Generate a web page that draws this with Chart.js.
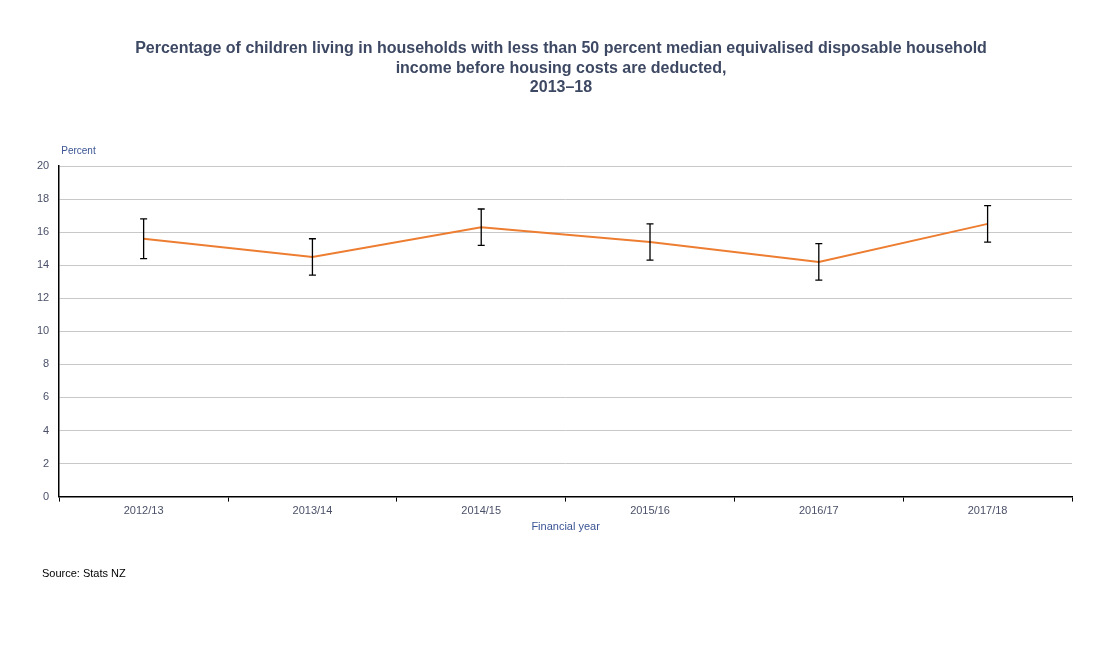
<!DOCTYPE html>
<html>
<head>
<meta charset="utf-8">
<script src="https://cdn.jsdelivr.net/npm/chart.js@4"></script>
<style>
  html, body { margin: 0; padding: 0; background: #fff; }
  #wrap { position: relative; width: 1101px; height: 658px; }
  #title { position: absolute; left: 0; width: 1122px; top: 38px; text-align: center;
           font: bold 16px/19.5px "Liberation Sans", Arial, sans-serif; color: #3d4863; }
  #source { position: absolute; left: 42px; top: 567px; font: 11px "Liberation Sans", Arial, sans-serif; color: #000; }
</style>
</head>
<body>
<div id="wrap">
  <canvas id="chart" width="1101" height="658"></canvas>
  <div id="title"></div>
  <div id="source">Source: Stats NZ</div>
</div>
<script>
'use strict';

// financial years and estimates (percent), with confidence bounds
const years = ['2012/13', '2013/14', '2014/15', '2015/16', '2016/17', '2017/18'];
const percent = [15.6, 14.5, 16.3, 15.4, 14.2, 16.5];
const lower = [14.4, 13.4, 15.2, 14.3, 13.1, 15.4];
const upper = [16.8, 15.6, 17.4, 16.5, 15.3, 17.6];

const titleLines = [
    'Percentage of children living in households with less than 50 percent median equivalised disposable household',
    'income before housing costs are deducted,',
    '2013\u201318'
];

const FONT = '"Liberation Sans", Arial, sans-serif';
const tickColor = '#4a5068';
const blueLabel = '#3a5493';

document.getElementById('title').innerHTML = titleLines.join('<br>');

// error bars, drawn through the chart scales
const errorBars = {
    id: 'errorBars',
    afterDatasetsDraw(chart) {
        const x = chart.scales.x, y = chart.scales.y;
        const ctx = chart.ctx;
        ctx.save();
        ctx.strokeStyle = '#000';
        ctx.lineWidth = 1.3;
        for (let i = 0; i < years.length; i++) {
            let px = x.getPixelForValue(i);
            let top = y.getPixelForValue(upper[i]);
            let bot = y.getPixelForValue(lower[i]);
            ctx.beginPath();
            ctx.moveTo(px, top); ctx.lineTo(px, bot);
            ctx.moveTo(px - 3.5, top); ctx.lineTo(px + 3.5, top);
            ctx.moveTo(px - 3.5, bot); ctx.lineTo(px + 3.5, bot);
            ctx.stroke();
        }
        ctx.restore();
    }
};

// "Percent" unit label above the y axis
const unitLabel = {
    id: 'unitLabel',
    afterDraw(chart) {
        const ctx = chart.ctx;
        ctx.save();
        ctx.font = '10px ' + FONT;
        ctx.fillStyle = blueLabel;
        ctx.textAlign = 'left';
        ctx.textBaseline = 'middle';
        ctx.fillText('Percent', chart.chartArea.left + 2, chart.chartArea.top - 15);
        ctx.restore();
    }
};

function renderChart() {
    let canvasElem = document.getElementById('chart');
    const chartConfig = {
        type: 'line',
        data: {
            labels: years,
            datasets: [{
                label: 'Percent',
                data: percent,
                borderColor: '#ed7d31',
                borderWidth: 2,
                pointRadius: 0,
                tension: 0,
                fill: false
            }]
        },
        options: {
            responsive: false,
            animation: false,
            devicePixelRatio: 1,
            layout: {
                padding: { left: 27, right: 29, top: 166, bottom: 124 }
            },
            plugins: {
                legend: { display: false },
                tooltip: { enabled: false },
                title: { display: false }
            },
            scales: {
                x: {
                    offset: true,
                    grid: {
                        display: true,
                        offset: true,
                        drawOnChartArea: false,
                        drawTicks: true,
                        tickLength: 5,
                        color: '#000'
                    },
                    border: { color: '#000', width: 1.5 },
                    ticks: {
                        color: tickColor,
                        font: { family: FONT, size: 11 },
                        padding: 3,
                        maxRotation: 0
                    },
                    title: {
                        display: true,
                        text: 'Financial year',
                        color: blueLabel,
                        font: { family: FONT, size: 11 },
                        padding: { top: 0, bottom: 0 }
                    }
                },
                y: {
                    min: 0,
                    max: 20,
                    ticks: {
                        stepSize: 2,
                        color: tickColor,
                        font: { family: FONT, size: 11 },
                        padding: 10
                    },
                    grid: {
                        color: '#c8c8c8',
                        drawTicks: false
                    },
                    border: { color: '#000', width: 1.5 }
                }
            }
        },
        plugins: [errorBars, unitLabel]
    };
    new Chart(canvasElem, chartConfig);
}

renderChart();
</script>
</body>
</html>
